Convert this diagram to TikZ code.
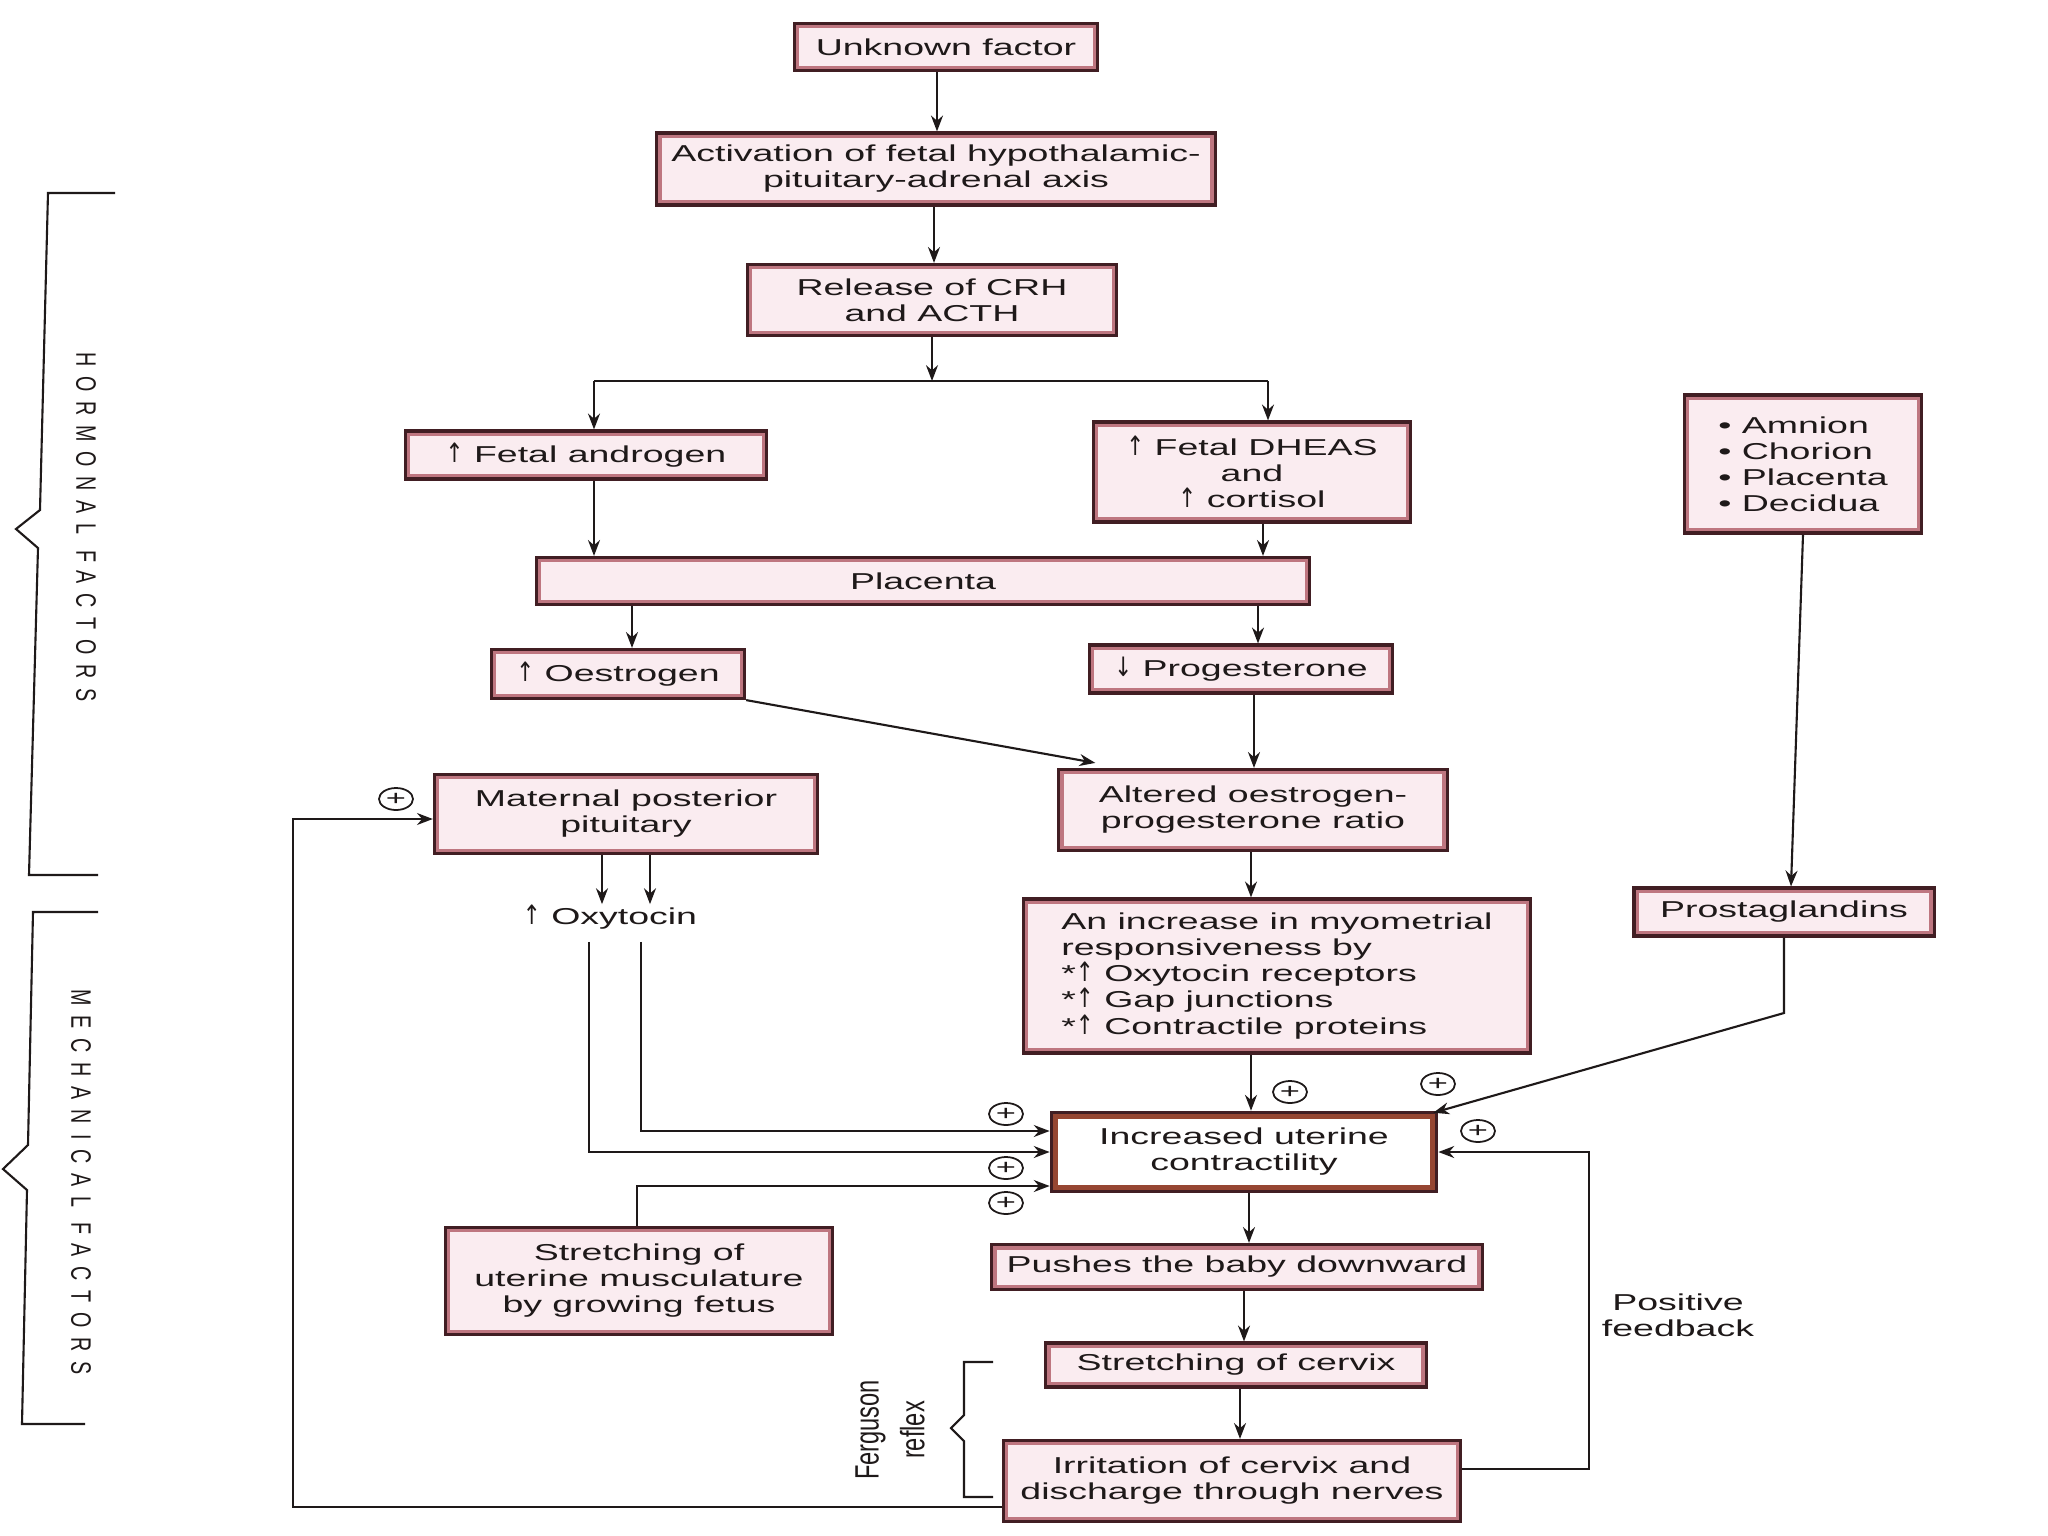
\documentclass[tikz,border=0pt]{standalone}
\usepackage{fontspec}
\newfontfamily\bx[FakeStretch=1.63]{Liberation Sans}
\newfontfamily\fgfont[FakeStretch=0.7]{Liberation Sans}
\newfontfamily\vfont[FakeStretch=0.7,LetterSpace=35]{Liberation Sans}
\newfontfamily\arrf[FakeStretch=0.8]{DejaVu Sans}
\newcommand\upa{{\arrf\fontsize{7.6pt}{7.4pt}\selectfont ↑}}
\newcommand\dna{{\arrf\fontsize{7.6pt}{7.4pt}\selectfont ↓}}
\usetikzlibrary{arrows.meta,shapes.geometric}
\definecolor{boxdark}{RGB}{65,30,35}
\definecolor{boxband}{RGB}{190,118,128}
\definecolor{boxin}{RGB}{250,236,240}
\definecolor{incband}{RGB}{150,70,50}
\definecolor{ink}{RGB}{30,25,25}
\begin{document}
\begin{tikzpicture}[x=0.01cm,y=-0.01cm,
  txt/.style={font=\bx\fontsize{6.54pt}{7.4pt}\selectfont, text=ink, align=center, inner sep=0pt},
  box/.style={txt, draw=boxdark, line width=0.9pt, fill=boxband,
    path picture={\fill[boxin] ([shift={(5,-5)}]path picture bounding box.south west) rectangle ([shift={(-5,5)}]path picture bounding box.north east);}},
  incbox/.style={txt, draw=boxdark, line width=1pt, fill=incband,
    path picture={\fill[white] ([shift={(7,-7)}]path picture bounding box.south west) rectangle ([shift={(-7,7)}]path picture bounding box.north east);}},
  sz/.style 2 args={minimum width=#1cm, minimum height=#2cm},
  arr/.style={draw=ink, line width=0.6pt, -{Stealth[length=4.5pt,width=3.4pt]}},
  ln/.style={draw=ink, line width=0.6pt},
  pl/.style={ellipse, draw=ink, line width=0.5pt, minimum width=0.34cm, minimum height=0.22cm, inner sep=0pt, font=\bx\fontsize{6pt}{6pt}\selectfont, text=ink},
  brace/.style={draw=ink, line width=0.6pt, line join=miter},
  vtext/.style={font=\vfont\fontsize{8pt}{8pt}\selectfont, text=ink, rotate=-90, inner sep=0pt}
]
\useasboundingbox (0,0) rectangle (2048,1536);
\fill[white] (0,0) rectangle (2048,1536);

% ---------- nodes ----------
\node[box, sz={3.03}{0.47}] (unk) at (946,47) {Unknown factor};
\node[box, sz={5.58}{0.72}] (act) at (936,169) {Activation of fetal hypothalamic-\\pituitary-adrenal axis};
\node[box, sz={3.69}{0.71}] (crh) at (932,300) {Release of CRH\\and ACTH};
\node[box, sz={3.61}{0.48}] (andro) at (586,455) {\upa\ Fetal androgen};
\node[box, sz={3.17}{1.00}] (dheas) at (1252,472) {\upa\ Fetal DHEAS\\and\\\upa\ cortisol};
\node[box, sz={7.73}{0.47}] (plac) at (923,581) {Placenta};
\node[box, sz={2.53}{0.49}] (oest) at (618,674) {\upa\ Oestrogen};
\node[box, sz={3.03}{0.48}] (prog) at (1241,669) {\dna\ Progesterone};
\node[box, sz={3.88}{0.81}] (ratio) at (1253,810) {Altered oestrogen-\\progesterone ratio};
\node[box, sz={3.83}{0.79}] (mpp) at (626,814) {Maternal posterior\\pituitary};
\node[txt] (oxy) at (610,917) {\upa\ Oxytocin};
\node[box, sz={5.07}{1.54}, align=left] (myo) at (1277,976) {An increase in myometrial\\responsiveness by\\*\upa\ Oxytocin receptors\\*\upa\ Gap junctions\\*\upa\ Contractile proteins};
\node[box, sz={2.37}{1.38}, align=left] (amn) at (1803,464) {• Amnion\\• Chorion\\• Placenta\\• Decidua};
\node[box, sz={3.00}{0.48}] (pros) at (1784,912) {Prostaglandins};
\node[incbox, sz={3.85}{0.79}] (inc) at (1244,1152) {Increased uterine\\contractility};
\node[box, sz={4.90}{0.45}] (push) at (1237,1267) {Pushes the baby downward};
\node[box, sz={3.80}{0.44}] (cerv) at (1236,1365) {Stretching of cervix};
\node[box, sz={4.57}{0.81}] (irr) at (1232,1481) {Irritation of cervix and\\discharge through nerves};
\node[box, sz={3.87}{1.07}] (stretch) at (639,1281) {Stretching of\\uterine musculature\\by growing fetus};
\node[txt] (pf) at (1678,1315) {Positive\\feedback};
\node[font=\fgfont\fontsize{9.6pt}{13pt}\selectfont, text=ink, align=center, rotate=90, inner sep=0pt] (fg) at (890,1430) {Ferguson\\reflex};
\node[vtext] (hf) at (86,527) {HORMONAL FACTORS};
\node[vtext] (mf) at (81,1182) {MECHANICAL FACTORS};

% ---------- plus signs ----------
\node[pl] (p1) at (396,799) {+};
\node[pl] (p2) at (1006,1114) {+};
\node[pl] (p3) at (1006,1168) {+};
\node[pl] (p4) at (1006,1203) {+};
\node[pl] (p5) at (1290,1092) {+};
\node[pl] (p6) at (1438,1084) {+};
\node[pl] (p7) at (1478,1131) {+};

% ---------- helper coordinates ----------
\coordinate (c937) at (937,0);
\coordinate (c934) at (934,0);
\coordinate (j1) at (932,381);
\coordinate (jl) at (594,381);
\coordinate (jr) at (1268,381);
\coordinate (c1263) at (1263,0);
\coordinate (c632) at (632,0);
\coordinate (c1258) at (1258,0);
\coordinate (c1254) at (1254,0);
\coordinate (c1251) at (1251,0);
\coordinate (c602) at (602,0);
\coordinate (c650) at (650,0);
\coordinate (c589) at (589,0);
\coordinate (c641) at (641,0);
\coordinate (c637) at (637,0);
\coordinate (c1249) at (1249,0);
\coordinate (c1244) at (1244,0);
\coordinate (c1240) at (1240,0);
\coordinate (c1791) at (1791,0);
\coordinate (prosbend) at (1784,1013);
\coordinate (loopc) at (293,819);
\coordinate (fbc) at (1589,1152);

% ---------- connectors ----------
\draw[arr] (unk.south -| c937) -- (act.north -| c937);
\draw[arr] (act.south -| c934) -- (crh.north -| c934);
\draw[arr] (crh.south -| j1) -- (j1);
\draw[ln] (jl) -- (jr);
\draw[arr] (jl) -- (jl |- andro.north);
\draw[arr] (jr) -- (jr |- dheas.north);
\draw[arr] (andro.south -| jl) -- (plac.north -| jl);
\draw[arr] (dheas.south -| c1263) -- (plac.north -| c1263);
\draw[arr] (plac.south -| c632) -- (oest.north -| c632);
\draw[arr] (plac.south -| c1258) -- (prog.north -| c1258);
\draw[arr] (prog.south -| c1254) -- (ratio.north -| c1254);
\draw[arr] (oest.south east) -- ([shift={(38,-5)}]ratio.north west);
\draw[arr] (ratio.south -| c1251) -- (myo.north -| c1251);
\draw[arr] (myo.south -| c1251) -- (inc.north -| c1251);
\draw[arr] (mpp.south -| c602) -- (oxy.north -| c602);
\draw[arr] (mpp.south -| c650) -- (oxy.north -| c650);
\draw[arr] ([shift={(0,12)}]oxy.south -| c589) |- (inc.west);
\draw[arr] ([shift={(0,12)}]oxy.south -| c641) |- ([shift={(0,-21)}]inc.west);
\draw[arr] (stretch.north -| c637) |- ([shift={(0,34)}]inc.west);
\draw[arr] (amn.south) -- (pros.north -| c1791);
\draw[arr] (pros.south) -- (prosbend) -- ([shift={(-5,2)}]inc.north east);
\draw[arr] (inc.south -| c1249) -- (push.north -| c1249);
\draw[arr] (push.south -| c1244) -- (cerv.north -| c1244);
\draw[arr] (cerv.south -| c1240) -- (irr.north -| c1240);
\draw[arr] ([shift={(0,-12)}]irr.east) -| (fbc) -- (inc.east);
\draw[arr] ([shift={(0,26)}]irr.west) -| (loopc) -- ([shift={(0,5)}]mpp.west);

% ---------- braces ----------
\draw[brace] (993,1362) -- (964,1362) -- (964,1415) -- (951,1428) -- (964,1441) -- (964,1497) -- (993,1497);
\draw[brace] (115,193) -- (48,193) -- (40,510) -- (16,529) -- (38,548) -- (29,875) -- (98,875);
\draw[brace] (98,912) -- (33,912) -- (28,1145) -- (3,1169) -- (27,1190) -- (22,1424) -- (85,1424);
\end{tikzpicture}
\end{document}
